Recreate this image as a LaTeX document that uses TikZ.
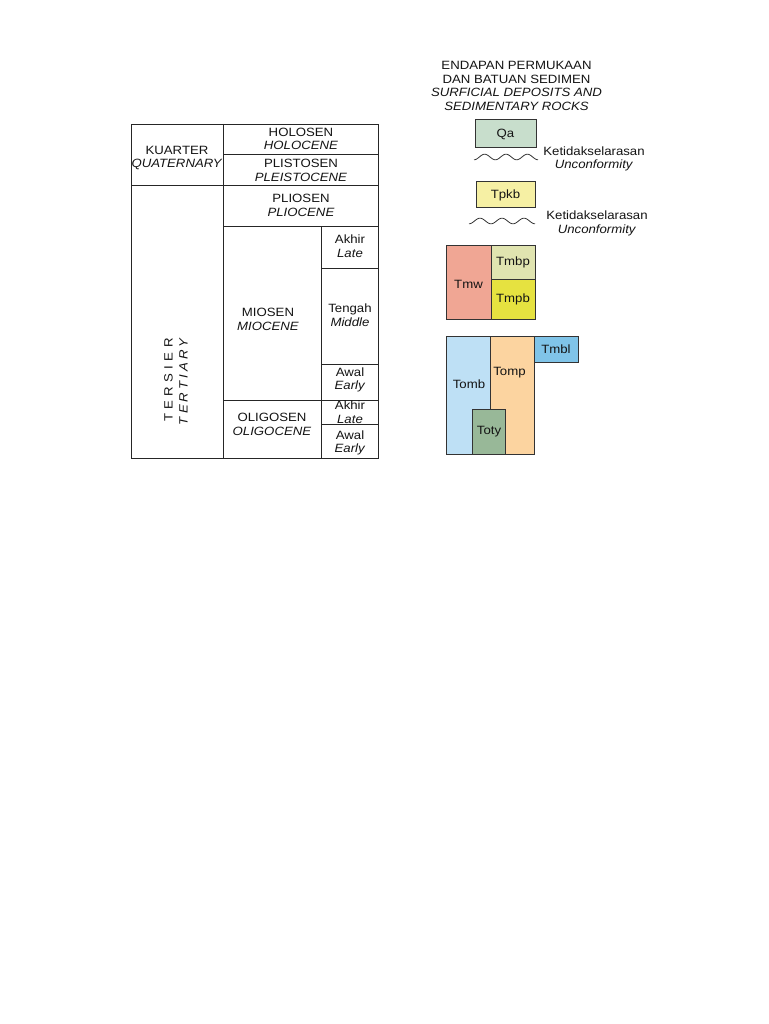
\documentclass[tikz,border=0pt]{standalone}
\usepackage{fontspec}
\setmainfont{Liberation Sans}[FakeStretch=1.1]
\begin{document}
\begin{tikzpicture}[x=1pt,y=-1pt,
  lbl/.style={inner sep=0pt,align=center,font=\fontsize{12}{13.6}\selectfont,text=black!92},
  tag/.style={lbl,anchor=base},
  grid/.style={draw=black!85,line width=0.9pt},
  unit/.style={draw=black!80,line width=0.9pt},
  wave/.style={draw=black!80,line width=0.8pt}]
\fill[white] (0,0) rectangle (768,1024);
\useasboundingbox (0,0) rectangle (768,1024);
% ---------- table ----------
\draw[grid] (131,124) rectangle (378.5,458.5);
\draw[grid] (223,124) -- (223,458.5);
\draw[grid] (223,154) -- (378.5,154);
\draw[grid] (131,185.5) -- (378.5,185.5);
\draw[grid] (223,226.5) -- (378.5,226.5);
\draw[grid] (321.5,226.5) -- (321.5,458.5);
\draw[grid] (321.5,268) -- (378.5,268);
\draw[grid] (321.5,364) -- (378.5,364);
\draw[grid] (223,400.5) -- (378.5,400.5);
\draw[grid] (321.5,424.5) -- (378.5,424.5);
\node[lbl] (kuarter) at (177,158) {KUARTER\\\textit{QUATERNARY}};
\node[lbl] (holosen) at (301,139) {HOLOSEN\\\textit{HOLOCENE}};
\node[lbl] (plistosen) at (301,170.5) {PLISTOSEN\\\textit{PLEISTOCENE}};
\node[lbl] (pliosen) at (301,205.5) {PLIOSEN\\\textit{PLIOCENE}};
\node[lbl] (miosen) at (268,319.5) {MIOSEN\\\textit{MIOCENE}};
\node[lbl] (oligosen) at (272,424.5) {OLIGOSEN\\\textit{OLIGOCENE}};
\node[lbl] (akhir1) at (350,246) {Akhir\\\textit{Late}};
\node[lbl] (tengah) at (350,315.5) {Tengah\\\textit{Middle}};
\node[lbl] (awal1) at (350,380) {Awal\\\textit{Early}};
\node[lbl] (akhir2) at (350,412.5) {Akhir\\\textit{Late}};
\node[lbl] (awal2) at (350,443) {Awal\\\textit{Early}};
\node[lbl,rotate=90] (tersier) at (168.5,380) {\addfontfeatures{LetterSpace=36}TERSIER};
\node[lbl,rotate=90] (tertiary) at (183.5,380) {\addfontfeatures{LetterSpace=26}\textit{TERTIARY}};
% ---------- legend ----------
\node[lbl] (title) at (516.5,86) {ENDAPAN PERMUKAAN\\DAN BATUAN SEDIMEN\\\textit{SURFICIAL DEPOSITS AND}\\\textit{SEDIMENTARY ROCKS}};
\path[unit,fill={rgb,255:red,200;green,222;blue,204}] (475,119) rectangle (536,147);
\node[tag] (qa) at (505.5,138) {Qa};
\draw[wave] plot[domain=0:64,samples=80,smooth] ({474+\x},{157+2.8*cos(\x/64*3*360)});
\node[lbl] (unc1) at (594,159) {Ketidakselarasan\\\textit{Unconformity}};
\path[unit,fill={rgb,255:red,246;green,240;blue,164}] (476,181) rectangle (535,207);
\node[tag] (tpkb) at (505.5,199) {Tpkb};
\draw[wave] plot[domain=0:66,samples=80,smooth] ({469+\x},{221+2.8*cos(\x/66*3*360)});
\node[lbl] (unc2) at (597,223.5) {Ketidakselarasan\\\textit{Unconformity}};
% Miocene units
\path[unit,fill={rgb,255:red,240;green,166;blue,148}] (446,245) rectangle (491,319);
\path[unit,fill={rgb,255:red,224;green,228;blue,176}] (491,245) rectangle (535.5,279);
\path[unit,fill={rgb,255:red,230;green,226;blue,64}] (491,279) rectangle (535.5,319);
\node[tag] (tmw) at (468.5,288) {Tmw};
\node[tag] (tmbp) at (513,265.5) {Tmbp};
\node[tag] (tmpb) at (513,302) {Tmpb};
% Oligocene units
\path[unit,fill={rgb,255:red,190;green,224;blue,245}] (446,336) rectangle (490,454);
\path[unit,fill={rgb,255:red,252;green,212;blue,160}] (490,336) rectangle (534.5,454);
\path[unit,fill={rgb,255:red,128;green,196;blue,232}] (534.5,336) rectangle (578,362.5);
\path[unit,fill={rgb,255:red,152;green,184;blue,152}] (472.5,409) rectangle (505.5,454);
\node[tag] (tomb) at (469,388) {Tomb};
\node[tag] (tomp) at (509.5,375) {Tomp};
\node[tag] (tmbl) at (556,353) {Tmbl};
\node[tag] (toty) at (489,434.5) {Toty};
\end{tikzpicture}
\end{document}
